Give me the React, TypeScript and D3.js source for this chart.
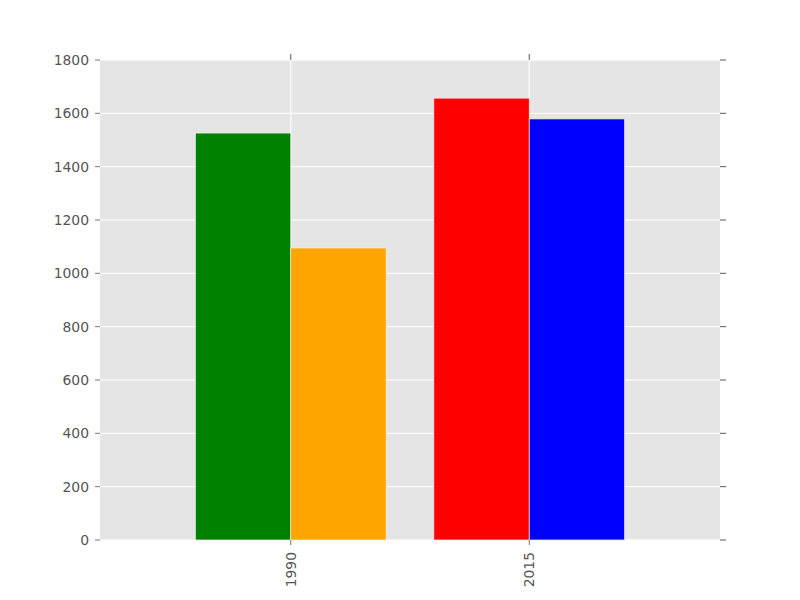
import React from "react";
import * as d3 from "d3";

const categories = ["1990", "2015"];
const seriesA = [1526, 1657];
const seriesB = [1095, 1579];
const colorsA = ["green", "red"];
const colorsB = ["orange", "blue"];
const yTicks = [0, 200, 400, 600, 800, 1000, 1200, 1400, 1600, 1800];

const W = 800, H = 600;
const L = 100, R = 720, T = 60, B = 540;

export default function App() {
  const x = d3.scaleLinear().domain([-0.8, 1.8]).range([L, R]);
  const y = d3.scaleLinear().domain([0, 1800]).range([B, T]);
  const bw = 0.4;
  const font = "DejaVu Sans, sans-serif";
  const fs = 13.9;
  const tc = "#555555";
  const tick1 = "#777777";
  const tick2 = "#555555";
  return (
    <svg width={W} height={H} style={{ position: "absolute", left: 0, top: 0, background: "#fff" }}>
      <rect x={L} y={T} width={R - L} height={B - T} fill="#E5E5E5" />
      {yTicks.map((t) => (
        <line key={"gy" + t} x1={L} x2={R} y1={y(t)} y2={y(t)} stroke="#fff" strokeWidth={1} />
      ))}
      {categories.map((c, i) => (
        <line key={"gx" + c} x1={x(i)} x2={x(i)} y1={T} y2={B} stroke="#fff" strokeWidth={1} />
      ))}
      {categories.map((c, i) => (
        <g key={"b" + c}>
          <rect x={x(i - bw)} y={y(seriesA[i])} width={x(i) - x(i - bw)} height={y(0) - y(seriesA[i])}
            fill={colorsA[i]} stroke="#EEEEEE" strokeWidth={0.7} />
          <rect x={x(i)} y={y(seriesB[i])} width={x(i + bw) - x(i)} height={y(0) - y(seriesB[i])}
            fill={colorsB[i]} stroke="#EEEEEE" strokeWidth={0.7} />
        </g>
      ))}
      {yTicks.map((t) => (
        <g key={"ty" + t}>
          <line x1={L - 5} x2={L} y1={y(t)} y2={y(t)} stroke={tick1} strokeWidth={1} />
          <line x1={R} x2={R + 6} y1={y(t)} y2={y(t)} stroke={tick2} strokeWidth={1} />
          <text x={L - 11} y={y(t)} dy="0.36em" textAnchor="end" fontFamily={font} fontSize={fs} fill={tc}>{t}</text>
        </g>
      ))}
      {categories.map((c, i) => (
        <g key={"tx" + c}>
          <line x1={x(i)} x2={x(i)} y1={B} y2={B + 5} stroke={tick1} strokeWidth={1} />
          <line x1={x(i)} x2={x(i)} y1={T - 6} y2={T} stroke={tick2} strokeWidth={1} />
          <text transform={`translate(${x(i)},${B + 12}) rotate(-90)`} dy="0.36em" textAnchor="end"
            fontFamily={font} fontSize={fs} fill={tc}>{c}</text>
        </g>
      ))}
    </svg>
  );
}
